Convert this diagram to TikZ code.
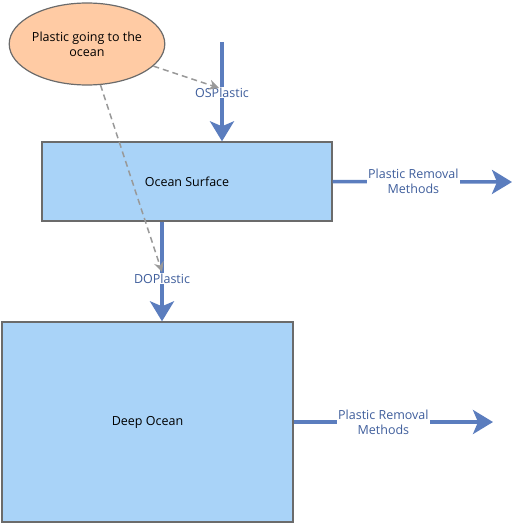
\documentclass[tikz,border=0pt]{standalone}
\usepackage{fontspec}
\setmainfont{Open Sans}
\usetikzlibrary{shapes.geometric,arrows.meta}

\definecolor{stockfill}{HTML}{A9D3F8}
\definecolor{sourcefill}{HTML}{FFCBA4}
\definecolor{edgegray}{HTML}{6B6B6B}
\definecolor{flowblue}{HTML}{5B7DBE}
\definecolor{labelblue}{HTML}{3F5E9C}
\definecolor{linkgray}{HTML}{999999}

\begin{document}
\begin{tikzpicture}[x=1pt,y=-1pt,
    every node/.style={font=\fontsize{12.5}{15}\selectfont},
    stock/.style={draw=edgegray, line width=1.4pt, fill=stockfill},
    source/.style={ellipse, draw=edgegray, line width=1.2pt, fill=sourcefill, align=center, inner sep=0pt},
    flow/.style={draw=flowblue, line width=3.5pt, -{Stealth[width=24pt,length=20pt,inset=5pt]}},
    flowlabel/.style={fill=white, text=labelblue, align=center, inner sep=1pt},
    info/.style={draw=linkgray, line width=1.5pt, dash pattern=on 6pt off 4pt, -{Stealth[length=10pt,width=10pt]}}]
    \useasboundingbox (0,0) rectangle (523,524);

    % stocks
    \node[stock, minimum width=290pt, minimum height=79pt] (surface) at (187,181.5) {Ocean Surface};
    \node[stock, minimum width=291pt, minimum height=200pt] (deep) at (147.5,422) {Deep Ocean};
    \node[source, minimum width=155pt, minimum height=82pt] (plastic) at (87,44) {Plastic going to the\\ocean};

    % flows
    \coordinate (osin) at (222,42);
    \coordinate (surfout) at (512,182);
    \coordinate (deepout) at (493,422);
    \draw[flow] (osin) -- (surface.north -| osin) node[flowlabel, pos=0.51] (osplastic) {OSPlastic};
    \draw[flow] (surface.south -| 162,0) -- (deep.north -| 162,0) node[flowlabel, pos=0.57] (doplastic) {DOPlastic};
    \draw[flow] (surface.east) -- (surfout) node[flowlabel, pos=0.45] (surfremoval) {Plastic Removal\\Methods};
    \draw[flow] (deep.east) -- (deepout) node[flowlabel, pos=0.45] (deepremoval) {Plastic Removal\\Methods};

    % links
    \coordinate (ostip) at (219,88);
    \coordinate (dotip) at (162,272);
    \draw[info] (plastic) -- (ostip);
    \draw[info] (plastic) -- (dotip);
\end{tikzpicture}
\end{document}
